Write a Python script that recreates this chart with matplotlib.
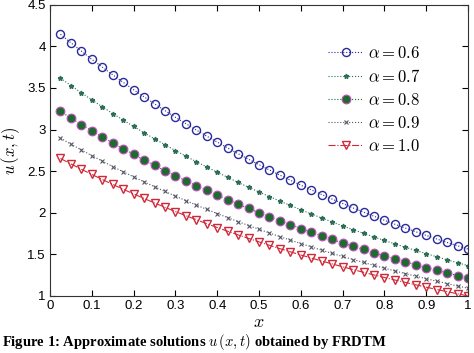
import matplotlib.pyplot as plt

# grid points and solutions
x = [0.025, 0.05, 0.075, 0.1, 0.125, 0.15, 0.175, 0.2, 0.225, 0.25,
     0.275, 0.3, 0.325, 0.35, 0.375, 0.4, 0.425, 0.45, 0.475, 0.5,
     0.525, 0.55, 0.575, 0.6, 0.625, 0.65, 0.675, 0.7, 0.725, 0.75,
     0.775, 0.8, 0.825, 0.85, 0.875, 0.9, 0.925, 0.95, 0.975, 1.0]

u_06 = [4.145, 4.043, 3.943, 3.845, 3.751, 3.658, 3.568, 3.479, 3.394, 3.310,
        3.228, 3.148, 3.071, 2.995, 2.921, 2.849, 2.779, 2.710, 2.643, 2.578,
        2.514, 2.452, 2.391, 2.332, 2.275, 2.219, 2.164, 2.111, 2.058, 2.008,
        1.958, 1.910, 1.862, 1.816, 1.772, 1.728, 1.685, 1.643, 1.603, 1.564]
u_07 = [3.618, 3.529, 3.442, 3.357, 3.274, 3.193, 3.115, 3.037, 2.962, 2.889,
        2.818, 2.748, 2.680, 2.614, 2.550, 2.487, 2.426, 2.365, 2.307, 2.250,
        2.195, 2.140, 2.088, 2.036, 1.986, 1.937, 1.889, 1.842, 1.797, 1.753,
        1.709, 1.667, 1.626, 1.586, 1.547, 1.509, 1.471, 1.435, 1.399, 1.365]
u_08 = [3.218, 3.139, 3.061, 2.986, 2.912, 2.840, 2.770, 2.702, 2.635, 2.570,
        2.507, 2.445, 2.384, 2.326, 2.268, 2.212, 2.158, 2.104, 2.052, 2.001,
        1.952, 1.904, 1.857, 1.811, 1.766, 1.723, 1.680, 1.639, 1.598, 1.559,
        1.520, 1.483, 1.446, 1.410, 1.376, 1.342, 1.308, 1.276, 1.245, 1.214]
u_09 = [2.897, 2.825, 2.755, 2.687, 2.621, 2.556, 2.493, 2.432, 2.372, 2.313,
        2.256, 2.200, 2.146, 2.093, 2.041, 1.991, 1.942, 1.894, 1.847, 1.801,
        1.757, 1.713, 1.671, 1.630, 1.590, 1.550, 1.512, 1.475, 1.438, 1.403,
        1.368, 1.334, 1.301, 1.269, 1.238, 1.208, 1.178, 1.149, 1.120, 1.093]
u_10 = [2.653, 2.587, 2.523, 2.461, 2.400, 2.341, 2.283, 2.227, 2.172, 2.118,
        2.066, 2.015, 1.965, 1.917, 1.869, 1.823, 1.778, 1.734, 1.692, 1.650,
        1.609, 1.569, 1.531, 1.493, 1.456, 1.420, 1.385, 1.351, 1.317, 1.285,
        1.253, 1.222, 1.192, 1.163, 1.134, 1.106, 1.078, 1.052, 1.026, 1.001]

x_ticks = [0, 0.1, 0.2, 0.3, 0.4, 0.5, 0.6, 0.7, 0.8, 0.9, 1]
x_tick_labels = ['0', '0.1', '0.2', '0.3', '0.4', '0.5', '0.6', '0.7', '0.8', '0.9', '1']
y_ticks = [1, 1.5, 2, 2.5, 3, 3.5, 4, 4.5]
y_tick_labels = ['1', '1.5', '2', '2.5', '3', '3.5', '4', '4.5']

plt.rcParams['font.family'] = ['Liberation Sans', 'DejaVu Sans']
plt.rcParams['mathtext.fontset'] = 'cm'

fig = plt.figure(figsize=(4.74, 3.53), dpi=100)
ax = fig.add_axes([0.1055, 0.1615, 0.882, 0.825])

ax.plot(x, u_06, ':', color='#2a2a9a', lw=0.8, marker='o', ms=5.8, mfc='none',
        mec='#2a2a9a', mew=1, label=r'$\alpha=0.6$')
ax.plot(x, u_07, ':', color='#2e6e55', lw=0.8, marker='*', ms=3.5,
        label=r'$\alpha=0.7$')
ax.plot(x, u_08, ':', color='#1e6b2e', lw=0.8, marker='o', ms=6.3, mfc='#1e6b2e',
        mec='#c050c0', mew=0.8, label=r'$\alpha=0.8$')
ax.plot(x, u_09, ':', color='#555566', lw=0.8, marker='x', ms=3.5, mew=0.8,
        label=r'$\alpha=0.9$')
ax.plot(x, u_10, '-.', color='#d02838', lw=0.8, marker='v', ms=6.3, mfc='none',
        mec='#d02838', mew=1, label=r'$\alpha=1.0$')

ax.set_xlim(0, 1)
ax.set_ylim(1, 4.5)
ax.set_xticks(x_ticks)
ax.set_xticklabels(x_tick_labels)
ax.set_yticks(y_ticks)
ax.set_yticklabels(y_tick_labels)
ax.tick_params(direction='in', top=True, right=True, labelsize=9.5, length=4,
               width=0.8, pad=3)
for s in ax.spines.values():
    s.set_linewidth(0.8)
    s.set_color('#333333')

ax.set_xlabel(r'$x$', fontsize=13, labelpad=1)
ax.set_ylabel(r'$u\,(x,t)$', fontsize=12, labelpad=4)

ax.legend(loc='upper left', bbox_to_anchor=(0.63, 0.915), frameon=False,
          fontsize=12, handlelength=2.1, handletextpad=0.3, labelspacing=0.42)

fig.text(0.005, 0.004, r'Figure 1: Approximate solutions $u\,(x,t)$ obtained by FRDTM',
         fontsize=10.5, fontweight='bold', family='Liberation Serif', va='bottom')

fig.savefig('out.png', dpi=100)
